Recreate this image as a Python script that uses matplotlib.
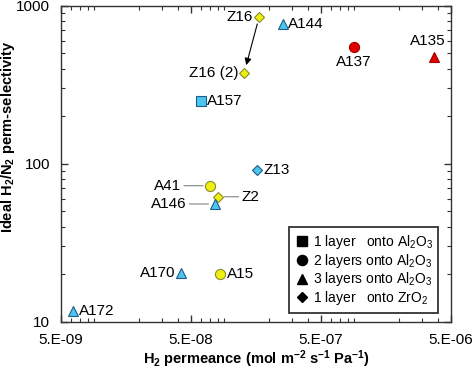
import matplotlib
matplotlib.use('Agg')
from matplotlib import pyplot as plt
from matplotlib.lines import Line2D

plt.rcParams['font.family'] = ['Liberation Sans', 'DejaVu Sans']
plt.rcParams['mathtext.fontset'] = 'custom'
plt.rcParams['mathtext.rm'] = 'Liberation Sans'
plt.rcParams['mathtext.it'] = 'Liberation Sans'
plt.rcParams['mathtext.bf'] = 'Liberation Sans:bold'

# membranes: name, H2 permeance, H2/N2 selectivity, support type, colour class
names = ['Z16', 'A144', 'A137', 'A135', 'Z16 (2)', 'A157', 'Z13',
         'A41', 'Z2', 'A146', 'A170', 'A15', 'A172']
permeance = [1.67e-7, 2.53e-7, 9.0e-7, 3.7e-6, 1.28e-7, 6.0e-8, 1.62e-7,
             7.0e-8, 8.0e-8, 7.7e-8, 4.2e-8, 8.3e-8, 6.2e-9]
selectivity = [848, 769, 547, 477, 375, 250, 91.4,
               72.7, 61.9, 55.7, 20.3, 20.0, 11.7]
support = ['1Zr', '3Al', '2Al', '3Al', '1Zr', '1Al', '1Zr',
           '2Al', '1Zr', '3Al', '3Al', '2Al', '3Al']
colour_class = ['Y', 'B', 'R', 'R', 'Y', 'B', 'B',
                'Y', 'Y', 'B', 'B', 'Y', 'B']

legend_labels = {
    '1Al': '1 layer   onto Al$_2$O$_3$',
    '2Al': '2 layers onto Al$_2$O$_3$',
    '3Al': '3 layers onto Al$_2$O$_3$',
    '1Zr': '1 layer   onto ZrO$_2$',
}

markers = {'1Al': 's', '2Al': 'o', '3Al': '^', '1Zr': 'D'}
sizes = {'1Al': 6.5, '2Al': 7.3, '3Al': 7, '1Zr': 5.3}
faces = {'Y': '#eeee10', 'B': '#4cc6ee', 'R': '#e00000'}
edges = {'Y': '#8a8a30', 'B': '#1d5c86', 'R': '#a00000'}

# label placement (offset in pixels, alignment, leader line)
label_pos = {
    'Z16': (-6, 0, 'right', 'center', False),
    'A144': (5, 0, 'left', 'center', False),
    'A137': (0, -8, 'center', 'top', False),
    'A135': (-6, 9, 'center', 'bottom', False),
    'Z16 (2)': (-6, 0, 'right', 'center', False),
    'A157': (6, 0, 'left', 'center', False),
    'Z13': (6, 0, 'left', 'center', False),
    'A41': (-29, 0, 'right', 'center', True),
    'Z2': (24, 0, 'left', 'center', True),
    'A146': (-29, 0, 'right', 'center', True),
    'A170': (-6, 0, 'right', 'center', False),
    'A15': (7, 0, 'left', 'center', False),
    'A172': (6, 0, 'left', 'center', False),
}

fig = plt.figure(figsize=(4.74, 3.69), dpi=100)
ax = fig.add_axes([0.1287, 0.128, 0.8228, 0.856])

for i in range(len(names)):
    ax.plot(permeance[i], selectivity[i], linestyle='none',
            marker=markers[support[i]], markersize=sizes[support[i]],
            markerfacecolor=faces[colour_class[i]],
            markeredgecolor=edges[colour_class[i]], markeredgewidth=0.8,
            zorder=3)
    dx, dy, ha, va, leader = label_pos[names[i]]
    ax.annotate(names[i], (permeance[i], selectivity[i]),
                xytext=(dx, dy), textcoords='offset pixels',
                ha=ha, va=va, fontsize=11, zorder=4)
    if leader:
        sign = 1 if dx > 0 else -1
        ax.annotate('', (permeance[i], selectivity[i]),
                    xytext=(dx - sign * 3, 0), textcoords='offset pixels',
                    arrowprops=dict(arrowstyle='-', color='#909090', lw=0.9,
                                    shrinkA=0, shrinkB=5), zorder=2)

# arrow Z16 -> Z16 (2)
ax.annotate('', xy=(permeance[4], selectivity[4]),
            xytext=(permeance[0], selectivity[0]),
            arrowprops=dict(arrowstyle='-|>', color='black', lw=0.8,
                            mutation_scale=10, shrinkA=5, shrinkB=6))

ax.set_xscale('log')
ax.set_yscale('log')
ax.set_xlim(5e-9, 5e-6)
ax.set_ylim(10, 1000)
ax.set_xticks([5e-9, 5e-8, 5e-7, 5e-6])
ax.set_xticklabels(['5.E-09', '5.E-08', '5.E-07', '5.E-06'])
ax.set_yticks([10, 100, 1000])
ax.set_yticklabels(['10', '100', '1000'])
ax.tick_params(which='both', direction='in', top=True, right=True,
               labelsize=11, color='#333333')
ax.tick_params(axis='x', which='major', pad=8)
ax.tick_params(axis='y', which='major', pad=8)
ax.tick_params(which='major', length=5, width=1)
ax.tick_params(which='minor', length=3, width=0.8)
for s in ax.spines.values():
    s.set_linewidth(1.0)
    s.set_color('#333333')

ax.set_xlabel(r'H$_\mathbf{2}$ permeance (mol m$^\mathbf{-2}$ s$^\mathbf{-1}$ Pa$^\mathbf{-1}$)',
              fontsize=10.5, fontweight='bold', labelpad=1)
ax.set_ylabel(r'Ideal H$_\mathbf{2}$/N$_\mathbf{2}$ perm-selectivity',
              fontsize=10.5, fontweight='bold')
ax.yaxis.set_label_coords(-0.113, 0.585)

handles = [Line2D([], [], linestyle='none', marker=markers[k],
                  markersize=sizes[k], color='black')
           for k in ['1Al', '2Al', '3Al', '1Zr']]
leg = ax.legend(handles, [legend_labels[k] for k in ['1Al', '2Al', '3Al', '1Zr']],
                loc='lower right', bbox_to_anchor=(0.975, 0.02),
                fontsize=10, fancybox=False, edgecolor='black',
                handletextpad=0.3, handlelength=1.0, labelspacing=0.05,
                borderpad=0.4, borderaxespad=0.2)
leg.get_frame().set_linewidth(1.3)

plt.savefig('out.png', dpi=100)
